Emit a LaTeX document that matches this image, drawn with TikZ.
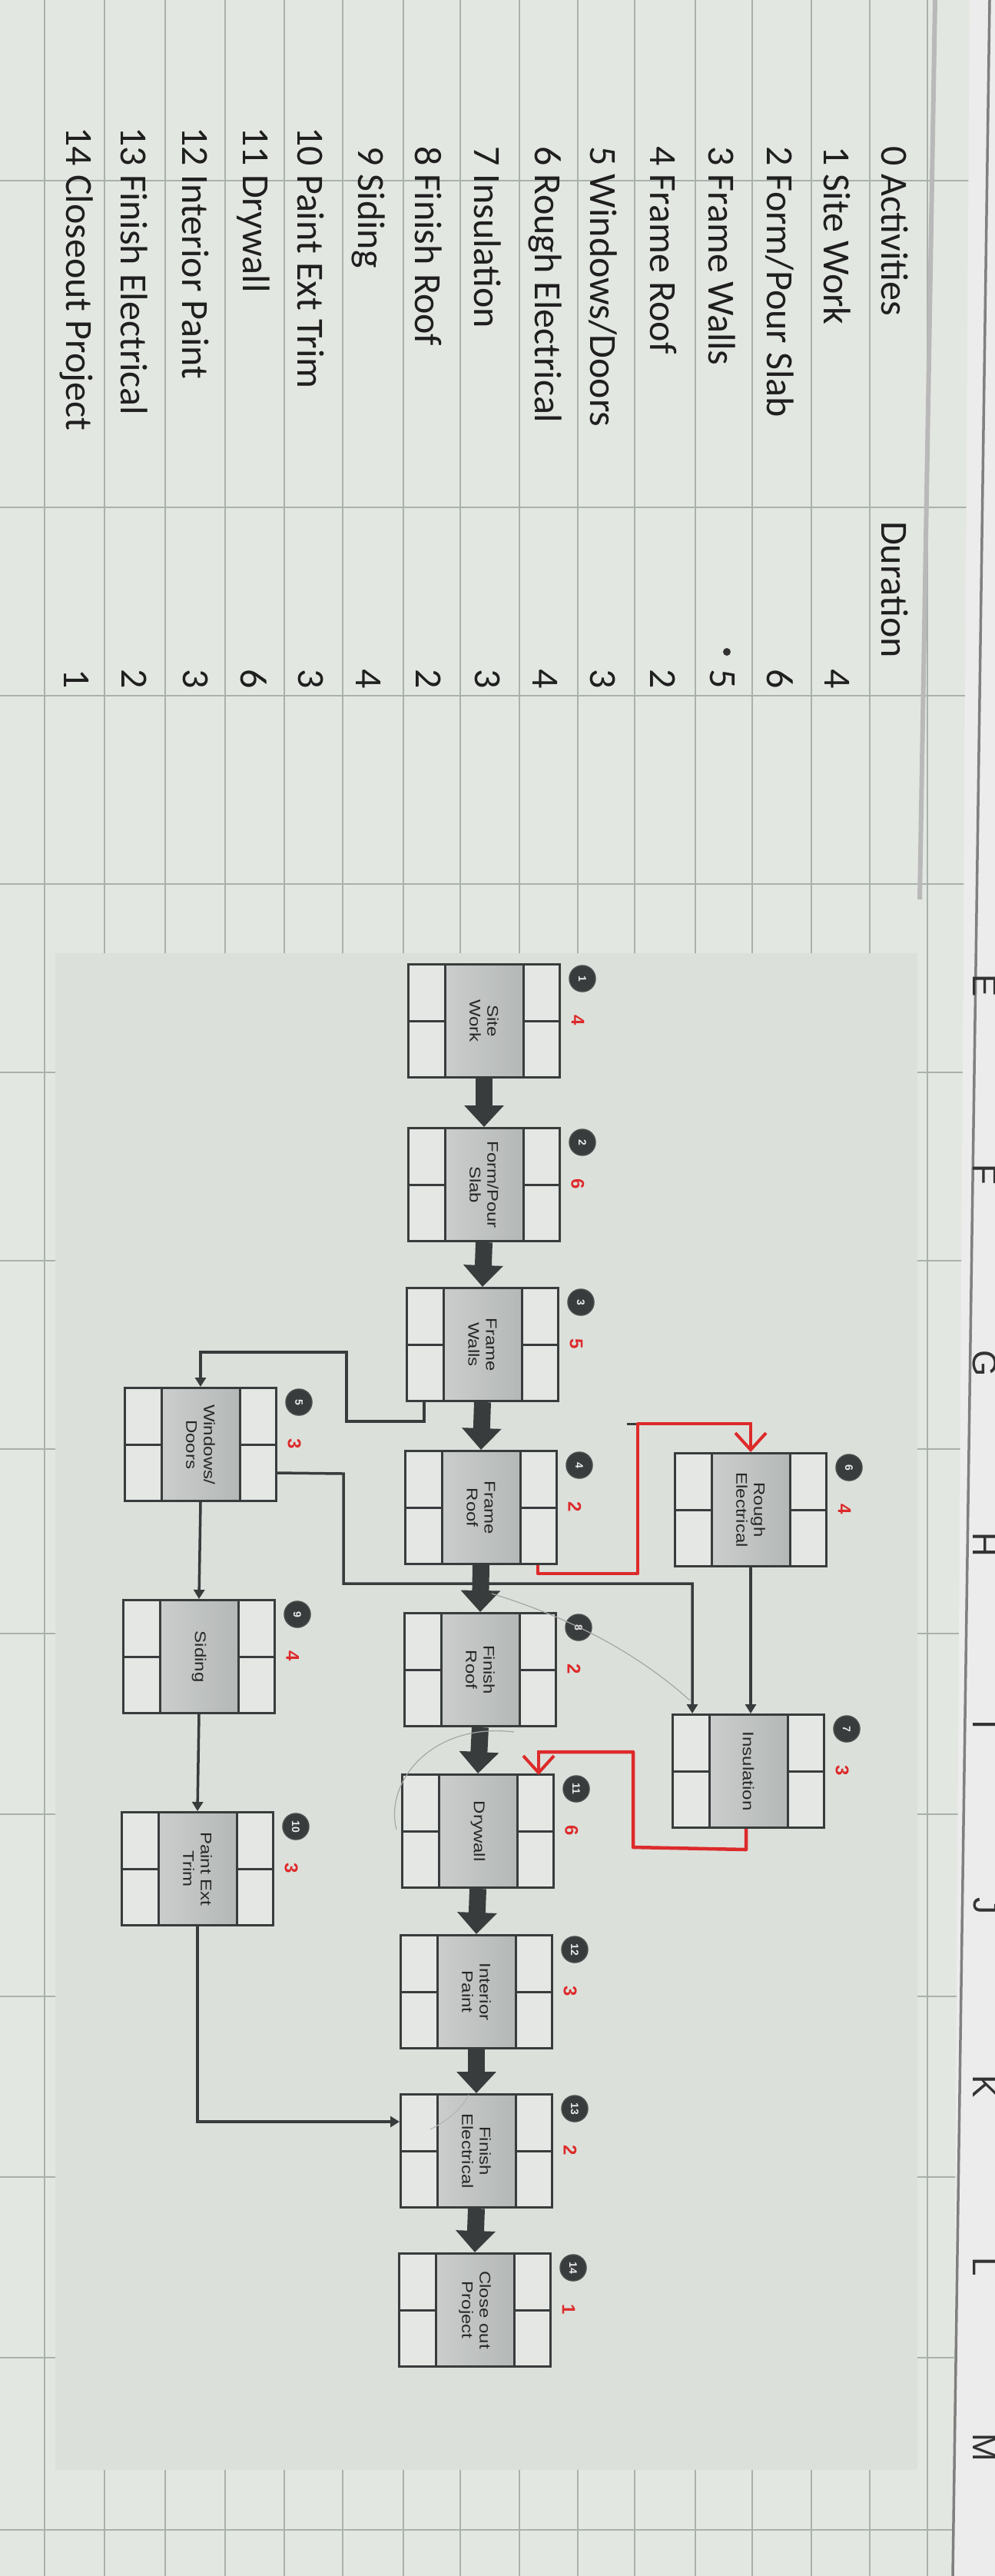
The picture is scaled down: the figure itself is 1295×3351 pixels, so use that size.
\documentclass[tikz,border=0pt]{standalone}
\usepackage{fontspec}
\setmainfont{Carlito}
\newfontfamily\boxfont{Liberation Sans}
\usetikzlibrary{arrows.meta,calc}
\definecolor{sheetbg}{HTML}{E3E7E1}
\definecolor{picbg}{HTML}{DCE0DB}
\definecolor{gridc}{HTML}{A9B1AC}
\definecolor{dk}{HTML}{383C3C}
\definecolor{cellg}{HTML}{B4B8B6}
\definecolor{boxbgc}{HTML}{E4E7E4}
\definecolor{redc}{HTML}{DD2A2A}
\tikzset{
 grid/.style={gridc,line width=1.6pt},
 tbl/.style={rotate=-90,font=\fontsize{50}{56}\selectfont,text=black!88,inner sep=0pt},
 abox/.style={draw=dk,line width=3pt,minimum width=197pt,minimum height=147pt,inner sep=0pt},
 boxline/.style={dk,line width=3pt},
 boxtext/.style={rotate=-90,xscale=1.2,align=center,font=\boxfont\fontsize{20}{23}\selectfont,text=black!85,inner sep=0pt},
 circlab/.style={circle,fill=dk,draw=black!70,line width=1.5pt,minimum size=34pt,inner sep=0pt,text=white!85!gray,font=\boxfont\bfseries\fontsize{14}{14}\selectfont,rotate=-90},
 rednum/.style={rotate=-90,text=redc,font=\boxfont\bfseries\fontsize{24}{24}\selectfont,inner sep=0pt},
 thick arrow/.style={dk,line width=22pt,-{Triangle[width=50pt,length=28pt]}},
 conn/.style={dk,line width=3.5pt,-{Triangle[width=14pt,length=12pt]}},
 redline/.style={redc,line width=4.5pt,line join=round},
 redtip/.style={redc,line width=4pt,-{Straight Barb[length=22pt,width=40pt]}},
 hdr/.style={rotate=-90,font=\boxfont\fontsize{44}{44}\selectfont,text=black!80}
}
\newcommand\actbox[5]{%
 \fill[boxbgc] ({#2-98},{#3-73}) rectangle ({#2+98},{#3+73});
 \shade[top color=cellg!70!white,bottom color=cellg,shading angle=90] ({#2-51},{#3-73}) rectangle ({#2+51},{#3+73});
 \node[abox] (#1) at (#2,#3) {};
 \draw[boxline] ({#2-51},{#3-73}) -- ({#2-51},{#3+73}) ({#2+51},{#3-73}) -- ({#2+51},{#3+73})
   ({#2-98},#3) -- ({#2-51},#3) ({#2+51},#3) -- ({#2+98},#3);
 \node[boxtext] at (#2,#3) {#4};
 \node[circlab] at ({#2+128},{#3-55}) {#5};
}
\newcommand\dur[3]{\node[rednum] at ({#1+122},{#2-1}) {#3};}
\begin{document}
\begin{tikzpicture}[x=1pt,y=-1pt]
\useasboundingbox (0,0) rectangle (1295,3351);
\fill[sheetbg] (0,0) rectangle (1295,3351);
\foreach \x in {58,136,215,293,370,446,525,599,676,752,826,905,979,1056,1132,1207}
  \draw[grid] (\x,0) -- (\x,3351);
\foreach \y in {235,660,905,1150,1395,1640,1885,2125,2360,2597,2832,3067,3291}
  \draw[grid] (0,\y) -- (1295,\y);
\fill[white!85!gray] (1262,0) -- (1295,0) -- (1295,3351) -- (1240,3351) -- cycle;
\draw[gray,line width=3.5pt] (1288,0) -- (1240,3351);
\draw[gray!55,line width=6pt] (1217,0) -- (1197,1170);
\foreach \y/\l in {1282/E,1528/F,1774/G,2009/H,2244/I,2479/J,2714/K,2949/L,3184/M}
  \node[hdr] at (1282,\y) {\l};
\node[tbl,anchor=west] at (1165,190) {0 Activities};
\node[tbl,anchor=west] at (1165,678) {Duration};
\foreach \x/\t/\d in {1090/{1 Site Work}/4,1015/{2 Form/Pour Slab}/6,940/{3 Frame Walls}/5,863/{4 Frame Roof}/2,785/{5 Windows/Doors}/3,710/{6 Rough Electrical}/4,635/{7 Insulation}/3,558/{8 Finish Roof}/2,480/{9 Siding}/4}{
  \node[tbl,anchor=west] at (\x,190) {\t};
  \node[tbl,anchor=east] at (\x,896) {\d};
}
\foreach \x/\t/\d in {405/{10 Paint Ext Trim}/3,330/{11 Drywall}/6,255/{12 Interior Paint}/3,175/{13 Finish Electrical}/2,100/{14 Closeout Project}/1}{
  \node[tbl,anchor=west] at (\x,165) {\t};
  \node[tbl,anchor=east] at (\x,896) {\d};
}
\fill[black!80] (946,848) circle (5pt);
\fill[picbg] (72,1240) rectangle (1194,3213);
\actbox{sw}{630}{1328}{Site\\Work}{1}  \dur{630}{1328}{4}
\actbox{fp}{630}{1541}{Form/Pour\\Slab}{2} \dur{630}{1541}{6}
\actbox{fw}{628}{1749}{Frame\\Walls}{3} \dur{628}{1749}{5}
\actbox{fr}{626}{1961}{Frame\\Roof}{4} \dur{626}{1961}{2}
\actbox{fn}{625}{2172}{Finish\\Roof}{8} \dur{625}{2172}{2}
\actbox{dw}{622}{2382}{Drywall}{11} \dur{622}{2382}{6}
\actbox{ip}{620}{2591}{Interior\\Paint}{12} \dur{620}{2591}{3}
\actbox{fe}{620}{2798}{Finish\\Electrical}{13} \dur{620}{2798}{2}
\actbox{cp}{618}{3005}{Close out\\Project}{14} \dur{618}{3005}{1}
\actbox{wd}{261}{1879}{Windows/\\Doors}{5} \dur{261}{1879}{3}
\actbox{sd}{259}{2155}{Siding}{9} \dur{259}{2155}{4}
\actbox{pe}{257}{2431}{Paint Ext\\Trim}{10} \dur{257}{2431}{3}
\actbox{re}{977}{1964}{Rough\\Electrical}{6} \dur{977}{1964}{4}
\actbox{in}{974}{2304}{Insulation}{7} \dur{974}{2304}{3}
\foreach \a/\b in {sw/fp,fp/fw,fw/fr,fr/fn,fn/dw,dw/ip,ip/fe,fe/cp}
  \draw[thick arrow] (\a.south) -- (\b.north);
\draw[conn] ([xshift=-76pt]fw.south) -- ++(0,25) -| (451,1759) -| (wd.north);
\draw[conn] ([yshift=-37pt]wd.east) -- (447,1917) -- (447,2060) -| ([xshift=-73pt]in.north);
\draw[conn] (wd.south) -- (sd.north);
\draw[conn] (sd.south) -- (pe.north);
\draw[conn] (pe.south) |- ([yshift=38pt]fe.west);
\draw[conn] (re.south) -- (re.south |- in.north);
\draw[dk,line width=3pt] (816,1852) -- (832,1852);
\draw[redline] ([xshift=74pt]fr.south) -- ++(0,11) -- (830,2047) -- (830,1852) -- (977,1852);
\draw[redtip] (977,1850) -- (re.north);
\draw[redline] ([xshift=-3pt]in.south) -- ++(0,27) -- (824,2403) -- (824,2279) -- (701,2279);
\draw[redtip] (701,2277) -- (701,2309);
\draw[gray!70,line width=1.2pt] (640,2073) .. controls (760,2110) and (840,2160) .. (898,2212);
\draw[gray!70,line width=1.2pt] (669,2253) .. controls (560,2240) and (500,2320) .. (516,2380);
\draw[gray!60,line width=1pt] (560,2770) .. controls (580,2760) and (600,2745) .. (610,2725);
\end{tikzpicture}
\end{document}
